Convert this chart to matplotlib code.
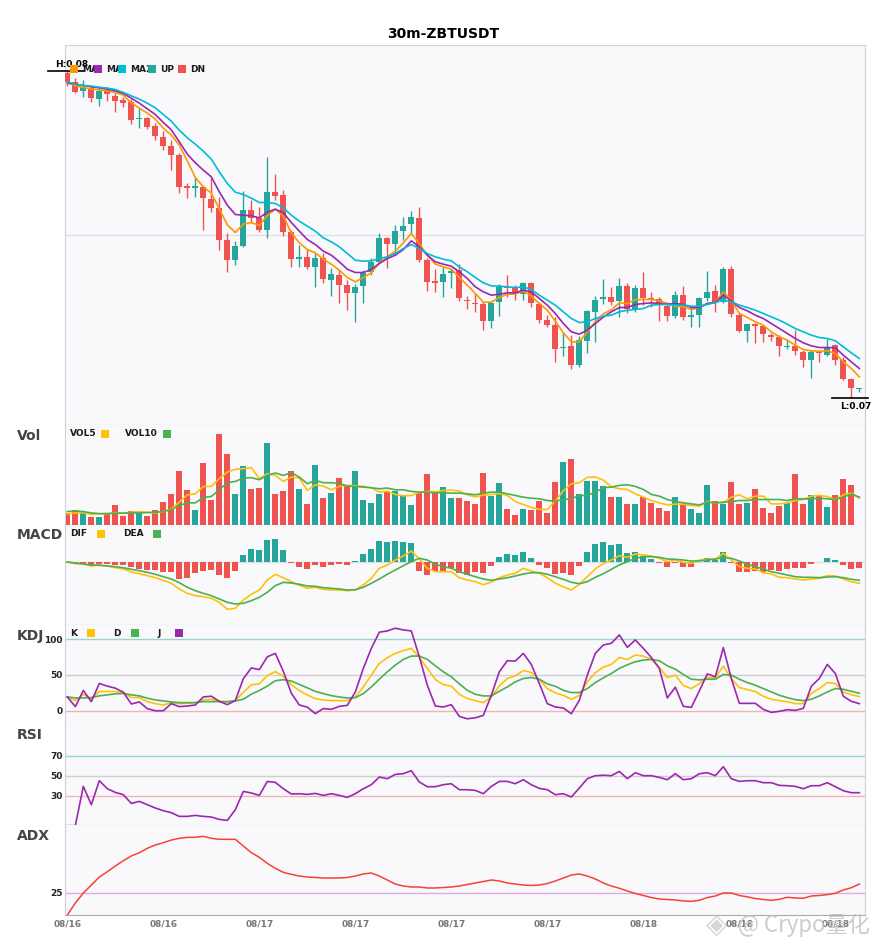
import matplotlib
matplotlib.use("Agg")
import matplotlib.pyplot as plt
from matplotlib.patches import Rectangle
from matplotlib.transforms import Bbox, TransformedBbox
import numpy as np
import pandas as pd

plt.rcParams["font.family"] = ["DejaVu Sans"]

# ---------------------------
# Data (prices in units of 1e-5 USDT, 30m bars)
# ---------------------------
SYMBOL = "30m-ZBTUSDT"
START_TIME = "2025-08-16 12:30"
PRICE_UNIT = 1e-5

open_ = [7991, 7964, 7937, 7946, 7913, 7940, 7922, 7910, 7904, 7852,
         7856, 7832, 7799, 7772, 7745, 7651, 7648, 7649, 7613, 7586,
         7490, 7430, 7472, 7580, 7556, 7520, 7634, 7625, 7514, 7434,
         7439, 7409, 7436, 7370, 7385, 7355, 7331, 7352, 7394, 7424,
         7496, 7478, 7517, 7538, 7556, 7430, 7366, 7364, 7392, 7400,
         7310, 7301, 7298, 7247, 7304, 7349, 7346, 7328, 7361, 7298,
         7250, 7235, 7166, 7172, 7115, 7187, 7274, 7314, 7319, 7307,
         7352, 7283, 7346, 7315, 7313, 7292, 7262, 7325, 7260, 7265,
         7316, 7337, 7304, 7403, 7265, 7217, 7238, 7232, 7205, 7199,
         7169, 7172, 7154, 7130, 7154, 7145, 7175, 7130, 7073, 7043]
high = [7997, 7976, 7970, 7955, 7946, 7949, 7931, 7919, 7913, 7886,
        7859, 7841, 7817, 7790, 7751, 7661, 7679, 7655, 7676, 7619,
        7511, 7487, 7637, 7610, 7589, 7739, 7688, 7640, 7520, 7475,
        7463, 7451, 7451, 7406, 7400, 7370, 7358, 7400, 7436, 7511,
        7499, 7535, 7559, 7577, 7589, 7436, 7403, 7409, 7406, 7418,
        7322, 7331, 7304, 7304, 7358, 7385, 7355, 7364, 7364, 7304,
        7265, 7259, 7211, 7205, 7202, 7280, 7322, 7373, 7349, 7376,
        7361, 7355, 7394, 7334, 7319, 7304, 7337, 7352, 7289, 7319,
        7397, 7355, 7409, 7412, 7271, 7238, 7241, 7235, 7211, 7205,
        7193, 7220, 7160, 7160, 7160, 7193, 7178, 7139, 7076, 7046]
low = [7952, 7931, 7919, 7904, 7892, 7907, 7874, 7889, 7838, 7826,
       7823, 7790, 7760, 7700, 7631, 7616, 7619, 7520, 7574, 7460,
       7394, 7415, 7469, 7541, 7514, 7496, 7610, 7502, 7409, 7409,
       7403, 7349, 7361, 7322, 7301, 7280, 7244, 7301, 7385, 7421,
       7406, 7445, 7490, 7511, 7424, 7337, 7334, 7319, 7346, 7307,
       7283, 7274, 7220, 7226, 7262, 7319, 7310, 7310, 7289, 7241,
       7229, 7124, 7142, 7103, 7109, 7151, 7184, 7298, 7295, 7259,
       7271, 7274, 7295, 7289, 7247, 7247, 7256, 7250, 7229, 7229,
       7307, 7274, 7301, 7259, 7214, 7184, 7181, 7184, 7187, 7142,
       7163, 7145, 7109, 7076, 7124, 7142, 7115, 7070, 7016, 7034]
close = [7964, 7934, 7949, 7916, 7937, 7928, 7907, 7901, 7850, 7856,
         7829, 7802, 7772, 7745, 7649, 7648, 7651, 7616, 7586, 7490,
         7430, 7472, 7580, 7556, 7520, 7634, 7622, 7514, 7433, 7439,
         7409, 7436, 7373, 7388, 7355, 7331, 7349, 7391, 7424, 7496,
         7478, 7517, 7532, 7559, 7430, 7364, 7363, 7388, 7397, 7316,
         7307, 7298, 7247, 7301, 7349, 7346, 7331, 7361, 7301, 7250,
         7235, 7163, 7170, 7115, 7190, 7277, 7310, 7319, 7304, 7352,
         7283, 7346, 7316, 7312, 7295, 7262, 7325, 7259, 7265, 7316,
         7334, 7304, 7403, 7268, 7217, 7238, 7234, 7208, 7201, 7172,
         7174, 7157, 7130, 7154, 7151, 7169, 7130, 7073, 7046, 7046]

ma5 = [7962, 7953, 7948, 7943, 7941, 7938, 7933, 7925, 7902, 7886,
       7871, 7853, 7826, 7805, 7775, 7728, 7678, 7650, 7631, 7584,
       7536, 7513, 7538, 7543, 7534, 7564, 7583, 7562, 7512, 7482,
       7462, 7452, 7433, 7418, 7400, 7378, 7365, 7378, 7392, 7422,
       7440, 7457, 7482, 7510, 7480, 7445, 7418, 7410, 7403, 7378,
       7355, 7330, 7304, 7304, 7318, 7328, 7328, 7338, 7322, 7300,
       7280, 7247, 7212, 7185, 7185, 7215, 7245, 7269, 7281, 7302,
       7300, 7312, 7312, 7312, 7308, 7300, 7292, 7290, 7282, 7288,
       7300, 7303, 7335, 7310, 7270, 7258, 7245, 7235, 7215, 7200,
       7190, 7175, 7162, 7158, 7157, 7158, 7150, 7125, 7105, 7080]
ma10 = [7962, 7958, 7954, 7950, 7947, 7943, 7938, 7930, 7916, 7901,
        7884, 7867, 7843, 7821, 7785, 7748, 7722, 7700, 7680, 7635,
        7595, 7567, 7565, 7563, 7557, 7574, 7583, 7572, 7543, 7517,
        7492, 7477, 7457, 7445, 7425, 7403, 7393, 7393, 7402, 7420,
        7435, 7445, 7462, 7488, 7470, 7445, 7425, 7418, 7412, 7395,
        7375, 7350, 7335, 7325, 7328, 7332, 7332, 7340, 7335, 7315,
        7295, 7270, 7240, 7215, 7208, 7220, 7240, 7259, 7275, 7288,
        7288, 7297, 7300, 7302, 7300, 7298, 7300, 7297, 7288, 7288,
        7300, 7303, 7325, 7308, 7288, 7278, 7265, 7255, 7240, 7225,
        7210, 7195, 7182, 7173, 7168, 7168, 7167, 7145, 7125, 7105]
ma20 = [7965, 7958, 7954, 7952, 7949, 7946, 7942, 7933, 7923, 7913,
        7901, 7887, 7867, 7847, 7820, 7797, 7778, 7757, 7733, 7695,
        7660, 7634, 7627, 7616, 7603, 7603, 7600, 7587, 7565, 7547,
        7532, 7517, 7497, 7485, 7470, 7450, 7430, 7427, 7428, 7435,
        7440, 7450, 7465, 7477, 7465, 7450, 7440, 7433, 7428, 7410,
        7395, 7378, 7362, 7353, 7352, 7350, 7348, 7350, 7342, 7325,
        7310, 7295, 7275, 7255, 7243, 7245, 7255, 7262, 7265, 7275,
        7280, 7282, 7285, 7295, 7297, 7297, 7295, 7295, 7292, 7292,
        7297, 7303, 7310, 7305, 7295, 7288, 7280, 7270, 7260, 7250,
        7238, 7225, 7215, 7205, 7198, 7195, 7188, 7170, 7152, 7135]

volume = [36, 45, 40, 25, 25, 33, 61, 28, 43, 42,
          28, 46, 70, 91, 160, 103, 46, 184, 76, 271,
          211, 91, 175, 107, 109, 244, 91, 100, 160, 106,
          64, 178, 79, 94, 139, 115, 160, 76, 67, 91,
          100, 101, 88, 61, 95, 151, 99, 112, 79, 79,
          73, 64, 154, 85, 124, 49, 31, 49, 46, 71,
          37, 127, 187, 196, 91, 130, 130, 115, 82, 82,
          64, 64, 82, 67, 52, 43, 82, 60, 49, 37,
          118, 73, 64, 127, 64, 67, 106, 52, 37, 58,
          67, 151, 64, 88, 85, 55, 88, 136, 118, 1]
vol5 = [33, 36, 36, 32, 33, 34, 36, 36, 38, 40,
        38, 36, 40, 48, 68, 90, 93, 115, 115, 138,
        158, 166, 168, 171, 138, 153, 148, 130, 143, 140,
        103, 120, 116, 105, 115, 118, 117, 115, 111, 98,
        101, 91, 87, 88, 97, 100, 99, 103, 104, 101,
        90, 84, 89, 91, 94, 88, 70, 61, 52, 47,
        46, 72, 102, 123, 126, 142, 143, 134, 114, 108,
        106, 93, 83, 73, 66, 60, 62, 62, 58, 56,
        70, 66, 66, 83, 90, 78, 86, 86, 63, 63,
        66, 73, 76, 86, 88, 85, 76, 90, 95, 80]
vol10 = [40, 42, 40, 36, 34, 34, 35, 35, 36, 36,
         37, 38, 40, 46, 58, 66, 66, 82, 85, 105,
         126, 130, 140, 141, 135, 148, 155, 148, 156, 143,
         123, 133, 126, 126, 124, 116, 115, 113, 111, 108,
         110, 105, 105, 100, 98, 98, 96, 96, 95, 95,
         93, 90, 95, 98, 98, 93, 88, 83, 80, 78,
         73, 71, 76, 78, 88, 88, 98, 111, 113, 118,
         120, 115, 106, 91, 86, 76, 70, 66, 63, 60,
         68, 66, 68, 70, 73, 73, 76, 76, 76, 76,
         73, 78, 78, 78, 80, 78, 76, 83, 92, 83]

# MACD in 1e-6 USDT
macd_hist = [-0.5, -2, -2, -2.7, -2, -2, -2.7, -2.7, -5.3, -7,
             -8, -8, -9.7, -9.7, -16.7, -16, -10.7, -8.7, -8, -13,
             -15.7, -8.7, 7, 13, 12, 22, 23, 12, -0.7, -4.7,
             -7, -2.7, -4.7, -2.7, -1.7, -2.7, 1.3, 8, 13, 21,
             20, 21, 20, 19, -8.7, -13, -8.7, -8.7, -6, -10.7,
             -12.7, -10, -10.7, -3.7, 5, 8, 7, 10, 4, -2.7,
             -5.7, -11.7, -10.7, -12.7, -3.7, 10, 18, 20, 17, 18,
             9, 10, 6, 3, -0.7, -4.7, -0.7, -4.7, -4.7, 0.3,
             4, 2, 10, -0.7, -9.7, -9.7, -9, -9.7, -8, -8.7,
             -6.7, -5.7, -5.7, -1.7, -0.3, 4, 2, -2.7, -6.7, -5.7]
dif = [0, -1.7, -2, -4, -3, -4, -5.7, -7, -10, -11.7,
       -13.7, -15.7, -18.3, -21.3, -27, -31.3, -33.7, -34.7, -36.3, -40.3,
       -47.3, -46.3, -38, -32.3, -28, -18, -12.3, -15.7, -19.7, -23.3,
       -26.3, -25.3, -27.3, -28, -28, -28.7, -28, -23, -16.3, -6.3,
       -3, 2, 6, 11, 3, -6.3, -9.7, -9.7, -9.7, -15.7,
       -18, -19.7, -22.7, -20, -15.7, -13, -11.3, -6.3, -9, -11.3,
       -15.7, -21.3, -24.7, -28, -22.3, -14.7, -7, -1.5, 2, 6.3,
       4.7, 8, 7, 6, 3.7, 0.3, 2, -0.3, -1.3, 2,
       2.7, 2.7, 8.7, 2, -4.7, -6.3, -7, -10.7, -12, -15.3,
       -15.7, -17, -18, -17, -16.3, -13.7, -14, -17, -19.7, -21.3]
dea = [0, -1, -2, -3, -3.3, -4, -4.7, -5.7, -7.3, -8.7,
       -10.3, -12.3, -14.7, -17, -20.7, -25.3, -28.7, -31.3, -33.7, -37,
       -40.3, -42, -41.3, -38.7, -35.3, -30.3, -23.7, -20.3, -21, -22.3,
       -24, -24.3, -25.7, -26.3, -27, -28, -27.7, -25.3, -21.3, -17,
       -12.3, -8, -3.7, 0.3, 3.7, 2, -2.3, -4.7, -6.3, -9.7,
       -12.3, -14.7, -17, -18.3, -17, -15.7, -14, -12, -10.7, -10.7,
       -12.3, -14.7, -17.3, -20.3, -21.7, -19.7, -15.3, -11.7, -7.3, -3,
       0.3, 3.7, 5.3, 5.3, 4.7, 3, 2.7, 2, 1, 1,
       2, 3, 4.3, 3.7, 1, -2.3, -4.7, -7, -9.7, -11.3,
       -13, -14.7, -15.3, -15.3, -15.7, -15, -14.7, -15.7, -17.3, -18.3]

kdj_k = [19.3, 14.2, 22.6, 17, 26.9, 26.9, 26.9, 25.5, 18.4, 18.4,
         12.7, 9.9, 8, 11.3, 9.9, 10.4, 11.3, 15.1, 16, 13.2,
         12.3, 14.2, 25.9, 36.3, 37.7, 49.1, 54.7, 48.1, 36.3, 28.3,
         22, 17, 15, 14.1, 14.1, 14.1, 19.2, 33.3, 49.8, 66.2,
         74.2, 80.3, 84, 87.3, 74.6, 59.2, 43.7, 36.6, 34.3, 23,
         16.9, 14.1, 11.3, 19.2, 34.7, 45.1, 48.8, 56.3, 53.5, 43.7,
         31, 24.9, 21.6, 16, 21.6, 40.4, 53.1, 61, 64.8, 74.6,
         71.8, 77.9, 76.5, 71.8, 60.6, 46.5, 49.8, 35.2, 31, 38,
         46.5, 46.5, 62.4, 45.1, 32.4, 29.6, 26.8, 20.2, 16, 14.1,
         12.7, 9.9, 9.9, 23.9, 31, 39.4, 38, 26.3, 22.5, 19.7]
kdj_d = [19.3, 17.9, 17.9, 18.4, 20.8, 22.2, 23.6, 24.1, 22.2, 20.8,
         17.5, 15.1, 13.7, 12.3, 11.3, 11.3, 11.3, 12.7, 12.7, 12.7,
         12.7, 13.7, 16, 23.1, 28.3, 34.4, 42, 43.4, 41.5, 36.8,
         32, 27, 24, 21.1, 19.2, 17.8, 18.3, 23.9, 33.3, 44.1,
         54.5, 63.8, 71.8, 76.5, 76.5, 71.8, 62.9, 54.5, 47.4, 37.6,
         28.6, 23, 20.7, 20.7, 27.2, 33.3, 40.4, 45.1, 46.5, 44.1,
         37.6, 34.3, 28.6, 25.4, 25.4, 31, 39.4, 46, 52.1, 59.2,
         64.3, 68.5, 70.9, 71.8, 70, 62.9, 58.2, 50.7, 44.1, 43.2,
         44.1, 44.1, 50.7, 49.8, 44.1, 39.4, 35.7, 31, 26.3, 21.6,
         18.3, 15.5, 14.1, 16, 20.7, 26.3, 31, 30, 27.2, 24.4]
kdj_j = [19.3, 5.7, 28.3, 12.7, 38.2, 34.4, 31.6, 25.9, 9.4, 12.3,
         2.8, 0, 0, 9.9, 5.7, 6.6, 8, 19.3, 20.3, 13.2,
         8.5, 14.2, 44.8, 59.9, 57.5, 75.5, 80.2, 55.2, 24.5, 8,
         5, -4, 3, 1.9, 6.1, 7.5, 26.3, 59.2, 87.3, 109.9,
         111.7, 115.5, 113.1, 111.7, 75.6, 35.7, 6.6, 5.2, 8.5, -8,
         -11.3, -9.9, -6.6, 21.6, 54.5, 70, 69.5, 80.3, 64.8, 38,
         9.9, 5.2, 3.8, -4.2, 14.6, 49.8, 80.3, 92, 94.4, 106.1,
         88.7, 99.1, 87.3, 74.6, 59.2, 17.8, 32.9, 6.1, 4.7, 27.7,
         51.6, 47.4, 88.3, 45.1, 10.3, 10.3, 10.3, 1.9, -2.3, -0.9,
         1.4, 0.5, 3.3, 34.3, 45.1, 64.8, 52.1, 20.2, 13.1, 9.9]

rsi = [0, 0, 39.3, 21, 45, 37, 33.3, 31, 22.3, 24.3,
       21, 17.7, 15, 13, 9.3, 9.3, 10.3, 9.3, 8.7, 6.3,
       5.3, 16, 34.3, 32.7, 30.3, 44.3, 43.3, 37, 31.7, 32,
       31.3, 32.3, 30.3, 32, 30.3, 28.3, 32, 37, 41, 48.7,
       47, 51.3, 52, 55, 43.7, 39, 39, 41, 42, 36,
       36, 35.3, 32, 39.3, 44.3, 44.3, 42, 46, 41, 37.3,
       36, 31, 32, 28.7, 37.7, 47, 50, 50.5, 50, 54.3,
       47, 53, 50, 50, 48.3, 46, 52, 46, 47, 52,
       53, 50, 59, 47, 44.3, 45, 45, 43, 43, 40.3,
       40, 39.3, 37, 40, 40, 43, 39, 35, 33, 33]

adx = [0, 13.3, 24.4, 33.3, 42.2, 48.1, 54.4, 60.3, 65.6, 69.2,
       74.1, 77.8, 80.3, 83.3, 85.2, 86.3, 86.3, 87.4, 85.2, 84.1,
       84.1, 84.1, 76.7, 69.2, 64.1, 57.4, 51.9, 47.4, 45.2, 43.3,
       42.2, 41.7, 41.1, 41.1, 41.1, 41.7, 43.3, 45.6, 46.7, 43.3,
       38.9, 34.4, 32.2, 31.1, 31.1, 30, 30, 30.6, 31.1, 32.2,
       33.9, 35.6, 37.2, 38.9, 37.8, 35.6, 34.4, 33.3, 32.8, 33.3,
       35, 37.8, 41.1, 44.4, 45.6, 43.3, 40, 35.6, 32.2, 29.7,
       26.7, 23.9, 21.7, 19.4, 17.8, 17.2, 16.7, 15.6, 15.2, 16.3,
       19.4, 21.1, 24.4, 24.4, 21.7, 20.2, 18.3, 17.2, 16.3, 17.4,
       19.7, 18.9, 18.6, 21.1, 21.7, 22.6, 24.1, 27.8, 30.3, 34.4]

# ---------------------------
# Styling
# ---------------------------
UP_COLOR = "#26a69a"
DN_COLOR = "#ef5350"
MA5_COLOR = "#ff9800"
MA10_COLOR = "#9c27b0"
MA20_COLOR = "#00bcd4"
YELLOW = "#ffc107"
GREEN = "#4caf50"
PURPLE = "#9c27b0"
HI_LINE = "#93d8cd"
LO_LINE = "#f4b3b3"
MID_LINE = "#cfcfcf"

W, H = 885, 950
fig = plt.figure(figsize=(W / 100, H / 100), dpi=100)
fig.patch.set_facecolor("white")


def to_fig(x, y):
    """pixel position (top-left origin) -> figure fraction"""
    return x / W, 1 - y / H


def panel(top, bottom, first=False):
    ax = fig.add_axes([65 / W, 1 - bottom / H, 800 / W, (bottom - top) / H])
    ax.set_facecolor("#f9f9fb")
    ax.set_xlim(-0.29, 99.71)
    for side in ("left", "right", "top"):
        ax.spines[side].set_color("#d0d0d8")
    ax.spines["top"].set_visible(first)
    ax.spines["bottom"].set_color("#ababab")
    ax.tick_params(length=0, labelsize=6.5, pad=1.5, labelcolor="#222")
    ax.set_xticks([])
    ax.set_yticks([])
    return ax


def key_square(x, y, color, z=10):
    fig.add_artist(Rectangle(to_fig(x, y + 4), 8 / W, 8 / H, transform=fig.transFigure,
                             facecolor=color, edgecolor="none", zorder=z))


def key_text(x, y, s, z=10):
    return fig.text(*to_fig(x, y), s, fontsize=6.5, fontweight="bold", ha="left",
                    va="center", color="#1a1a1a", zorder=z)


def bold_ticks(ax):
    for lab in ax.get_yticklabels() + ax.get_xticklabels():
        lab.set_fontweight("bold")


x = np.arange(len(close))
o, hi, lo, c = (np.array(v) * PRICE_UNIT for v in (open_, high, low, close))
up = c >= o
candle_colors = np.where(up, UP_COLOR, DN_COLOR)

# ---------------------------
# Price panel
# ---------------------------
ax = panel(45, 425, first=True)
ax.vlines(x, lo, hi, colors=candle_colors, linewidth=1, zorder=2)
body = np.maximum(np.abs(c - o), 4 * PRICE_UNIT)
ax.bar(x, body, bottom=np.minimum(o, c), width=0.75, color=candle_colors, zorder=3)
for vals, col in ((ma5, MA5_COLOR), (ma10, MA10_COLOR), (ma20, MA20_COLOR)):
    ax.plot(x, np.array(vals) * PRICE_UNIT, color=col, lw=1.2, zorder=4)
top, bot = hi.max(), lo.min()
rng = top - bot
ax.set_ylim(bot - 0.082 * rng, top + 0.08 * rng)
ax.axhline((top + bot) / 2, color="#dcdce6", lw=0.8, zorder=1)

ih, il = int(np.argmax(hi)), int(np.argmin(lo))
ax.plot([ih - 2.4, ih + 2.1], [hi[ih]] * 2, color="black", lw=1.2, clip_on=False, zorder=6)
ax.annotate(f"H:{hi[ih]:.2f}", (ih, hi[ih]), xytext=(3.4, 5), textcoords="offset points",
            ha="center", va="center", fontsize=6.5, fontweight="bold", annotation_clip=False, zorder=7)
ax.plot([il - 2.4, il + 2.1], [lo[il]] * 2, color="black", lw=1.2, clip_on=False, zorder=6)
ax.annotate(f"L:{lo[il]:.2f}", (il, lo[il]), xytext=(3.4, -6), textcoords="offset points",
            ha="center", va="center", fontsize=6.5, fontweight="bold", annotation_clip=False, zorder=7)

# legend: each label runs under the next square, as in the original
keys = [(70, "MA5", MA5_COLOR), (94, "MA10", MA10_COLOR), (118, "MA20", MA20_COLOR),
        (148, "UP", UP_COLOR), (178, "DN", DN_COLOR)]
z = 10
for k, (sx, label, col) in enumerate(keys):
    key_square(sx, 69, col, z)
    t = key_text(sx + 12, 69, label, z + 1)
    if k + 1 < len(keys):
        x0, y0 = to_fig(sx + 9, 80)
        x1, y1 = to_fig(keys[k + 1][0], 58)
        t.set_clip_box(TransformedBbox(Bbox.from_extents(x0, y0, x1, y1), fig.transFigure))
        t.set_clip_on(True)
    z += 2

fig.text(*to_fig(443, 34), SYMBOL, ha="center", va="center", fontsize=10, fontweight="bold")

# ---------------------------
# Volume panel
# ---------------------------
ax = panel(425, 525)
ax.bar(x, volume, width=0.75, color=candle_colors, zorder=2)
ax.plot(x, vol5, color=YELLOW, lw=1.2, zorder=3)
ax.plot(x, vol10, color=GREEN, lw=1.2, zorder=3)
ax.set_ylim(0, max(volume) * 1.1)
key_text(70, 434, "VOL5")
key_square(101, 434, YELLOW)
key_text(125, 434, "VOL10")
key_square(163, 434, GREEN)

# ---------------------------
# MACD panel
# ---------------------------
ax = panel(525, 625)
hist = np.array(macd_hist)
ax.axhline(0, color="#dddddd", lw=1, zorder=1)
ax.bar(x, hist, width=0.75, color=np.where(hist >= 0, UP_COLOR, DN_COLOR), zorder=2)
ax.plot(x, dif, color=YELLOW, lw=1.2, zorder=3)
ax.plot(x, dea, color=GREEN, lw=1.2, zorder=3)
ax.set_ylim(-63, 37)
key_text(70, 534, "DIF")
key_square(97, 534, YELLOW)
key_text(123, 534, "DEA")
key_square(153, 534, GREEN)

# ---------------------------
# KDJ panel
# ---------------------------
ax = panel(625, 725)
ax.axhline(100, color=HI_LINE, lw=1, zorder=1)
ax.axhline(50, color=MID_LINE, lw=1, zorder=1)
ax.axhline(0, color=LO_LINE, lw=1, zorder=1)
ax.plot(x, kdj_k, color=YELLOW, lw=1.2, zorder=3)
ax.plot(x, kdj_d, color=GREEN, lw=1.2, zorder=3)
ax.plot(x, kdj_j, color=PURPLE, lw=1.2, zorder=4)
ax.set_ylim(-20, 120)
ax.set_yticks([0, 50, 100])
bold_ticks(ax)
key_text(70, 633, "K")
key_square(87, 633, YELLOW)
key_text(113, 633, "D")
key_square(131, 633, GREEN)
key_text(157, 633, "J")
key_square(175, 633, PURPLE)

# ---------------------------
# RSI panel
# ---------------------------
ax = panel(725, 825)
ax.axhline(70, color=HI_LINE, lw=1, zorder=1)
ax.axhline(50, color=MID_LINE, lw=1, zorder=1)
ax.axhline(30, color=LO_LINE, lw=1, zorder=1)
ax.plot(x, rsi, color=PURPLE, lw=1.2, zorder=3)
ax.set_ylim(0.7, 100.7)
ax.set_yticks([30, 50, 70])
bold_ticks(ax)

# ---------------------------
# ADX panel
# ---------------------------
ax = panel(825, 915)
ax.axhline(25, color="#dcaee3", lw=1, zorder=1)
ax.plot(x, adx, color="#f44336", lw=1.1, zorder=3)
ax.set_ylim(0, 100)
ax.set_yticks([25])
times = pd.date_range(START_TIME, periods=len(close), freq="30min")
ticks = np.arange(0, len(close), 12)
ax.set_xticks(ticks)
ax.set_xticklabels([times[i].strftime("%m/%d") for i in ticks])
ax.tick_params(axis="x", labelcolor="#777777", pad=3)
bold_ticks(ax)

# panel names on the left
for name, yc in (("Vol", 436), ("MACD", 535), ("KDJ", 636), ("RSI", 735), ("ADX", 836)):
    fig.text(*to_fig(17, yc), name, fontsize=10, fontweight="bold", color="#444444",
             ha="left", va="center")

# watermark (it sits over the last tick labels in the original too)
fig.text(*to_fig(706, 925), "\u25c8", fontsize=20, color="#d0d0d0", ha="left", va="center",
         alpha=0.85, zorder=20)
fig.text(*to_fig(738, 925), "@ Crypo量化", fontsize=16, color="#c4c4c4", ha="left", va="center",
         family=["Noto Sans CJK SC", "DejaVu Sans"], alpha=0.85, zorder=20)

fig.savefig("out.png", dpi=100)
